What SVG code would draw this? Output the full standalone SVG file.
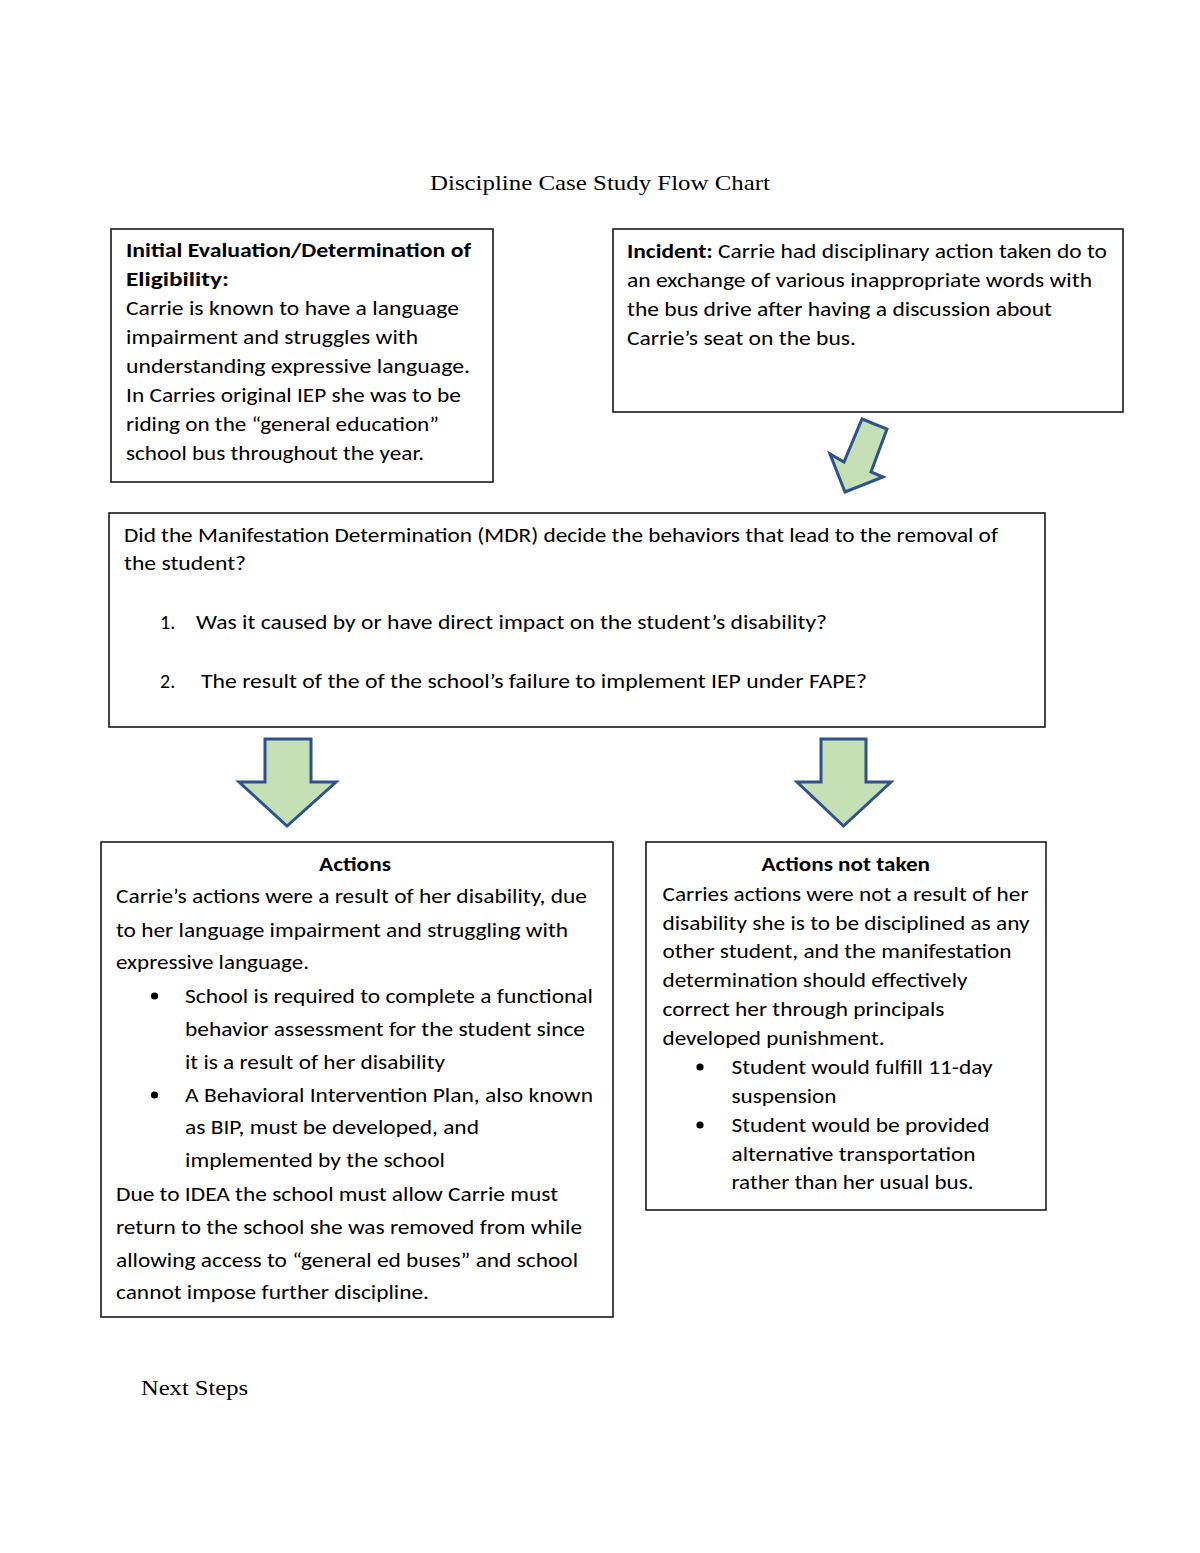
<svg xmlns="http://www.w3.org/2000/svg" width="1200" height="1553" viewBox="0 0 1200 1553">
<style>
.box{fill:#fff;stroke:#1a1a1a;stroke-width:1.6}
.t{font-family:Carlito,"Liberation Sans",Arial,sans-serif;font-size:20px;fill:#000}
.b{font-weight:bold}
.serif{font-family:"Liberation Serif","Times New Roman",serif;font-size:21px;fill:#000}
.arrow{fill:#c5e0b4;stroke:#2f528f;stroke-width:3;stroke-linejoin:miter}
.dot{fill:#000}
</style>
<rect width="1200" height="1553" fill="#fff"/>
<text class="serif" x="430" y="190" textLength="340" lengthAdjust="spacingAndGlyphs">Discipline Case Study Flow Chart</text>

<g id="initial-evaluation">
<rect class="box" x="111" y="229" width="382" height="253"/>
<text class="t b" x="126" y="257" textLength="345" lengthAdjust="spacingAndGlyphs">Initial Evaluation/Determination of</text>
<text class="t b" x="126" y="286" textLength="103" lengthAdjust="spacingAndGlyphs">Eligibility:</text>
<text class="t" x="126" y="315" textLength="333" lengthAdjust="spacingAndGlyphs">Carrie is known to have a language</text>
<text class="t" x="126" y="344" textLength="292" lengthAdjust="spacingAndGlyphs">impairment and struggles with</text>
<text class="t" x="126" y="373" textLength="344" lengthAdjust="spacingAndGlyphs">understanding expressive language.</text>
<text class="t" x="126" y="402" textLength="335" lengthAdjust="spacingAndGlyphs">In Carries original IEP she was to be</text>
<text class="t" x="126" y="431" textLength="313" lengthAdjust="spacingAndGlyphs">riding on the “general education”</text>
<text class="t" x="126" y="460" textLength="298" lengthAdjust="spacingAndGlyphs">school bus throughout the year.</text>
</g>

<g id="incident">
<rect class="box" x="613" y="229" width="510" height="183"/>
<text class="t" x="627" y="258" textLength="480" lengthAdjust="spacingAndGlyphs"><tspan class="b">Incident:</tspan> Carrie had disciplinary action taken do to</text>
<text class="t" x="627" y="287" textLength="465" lengthAdjust="spacingAndGlyphs">an exchange of various inappropriate words with</text>
<text class="t" x="627" y="316" textLength="425" lengthAdjust="spacingAndGlyphs">the bus drive after having a discussion about</text>
<text class="t" x="627" y="345" textLength="229" lengthAdjust="spacingAndGlyphs">Carrie’s seat on the bus.</text>
</g>

<g id="mdr">
<rect class="box" x="109" y="513" width="936" height="214"/>
<text class="t" x="124" y="542" textLength="874" lengthAdjust="spacingAndGlyphs">Did the Manifestation Determination (MDR) decide the behaviors that lead to the removal of</text>
<text class="t" x="124" y="570" textLength="122" lengthAdjust="spacingAndGlyphs">the student?</text>
<text class="t" x="160" y="629">1.</text>
<text class="t" x="196" y="629" textLength="631" lengthAdjust="spacingAndGlyphs">Was it caused by or have direct impact on the student’s disability?</text>
<text class="t" x="160" y="688">2.</text>
<text class="t" x="201" y="688" textLength="666" lengthAdjust="spacingAndGlyphs">The result of the of the school’s failure to implement IEP under FAPE?</text>
</g>

<g id="actions">
<rect class="box" x="101" y="842" width="512" height="475"/>
<text class="t b" x="319" y="871" textLength="72" lengthAdjust="spacingAndGlyphs">Actions</text>
<text class="t" x="116" y="903" textLength="471" lengthAdjust="spacingAndGlyphs">Carrie’s actions were a result of her disability, due</text>
<text class="t" x="116" y="937" textLength="452" lengthAdjust="spacingAndGlyphs">to her language impairment and struggling with</text>
<text class="t" x="116" y="969" textLength="193" lengthAdjust="spacingAndGlyphs">expressive language.</text>
<circle class="dot" cx="154.5" cy="996" r="3.6"/>
<text class="t" x="185" y="1003" textLength="408" lengthAdjust="spacingAndGlyphs">School is required to complete a functional</text>
<text class="t" x="185" y="1036" textLength="400" lengthAdjust="spacingAndGlyphs">behavior assessment for the student since</text>
<text class="t" x="185" y="1069" textLength="260" lengthAdjust="spacingAndGlyphs">it is a result of her disability</text>
<circle class="dot" cx="154.5" cy="1095" r="3.6"/>
<text class="t" x="185" y="1102" textLength="408" lengthAdjust="spacingAndGlyphs">A Behavioral Intervention Plan, also known</text>
<text class="t" x="185" y="1134" textLength="294" lengthAdjust="spacingAndGlyphs">as BIP, must be developed, and</text>
<text class="t" x="185" y="1167" textLength="260" lengthAdjust="spacingAndGlyphs">implemented by the school</text>
<text class="t" x="116" y="1201" textLength="442" lengthAdjust="spacingAndGlyphs">Due to IDEA the school must allow Carrie must</text>
<text class="t" x="116" y="1234" textLength="466" lengthAdjust="spacingAndGlyphs">return to the school she was removed from while</text>
<text class="t" x="116" y="1267" textLength="462" lengthAdjust="spacingAndGlyphs">allowing access to “general ed buses” and school</text>
<text class="t" x="116" y="1299" textLength="313" lengthAdjust="spacingAndGlyphs">cannot impose further discipline.</text>
</g>

<g id="actions-not-taken">
<rect class="box" x="646" y="842" width="400" height="368"/>
<text class="t b" x="761.5" y="871" textLength="168.5" lengthAdjust="spacingAndGlyphs">Actions not taken</text>
<text class="t" x="662.5" y="901" textLength="366" lengthAdjust="spacingAndGlyphs">Carries actions were not a result of her</text>
<text class="t" x="662.5" y="930" textLength="367" lengthAdjust="spacingAndGlyphs">disability she is to be disciplined as any</text>
<text class="t" x="662.5" y="958" textLength="349" lengthAdjust="spacingAndGlyphs">other student, and the manifestation</text>
<text class="t" x="662.5" y="987" textLength="305" lengthAdjust="spacingAndGlyphs">determination should effectively</text>
<text class="t" x="662.5" y="1016" textLength="282" lengthAdjust="spacingAndGlyphs">correct her through principals</text>
<text class="t" x="662.5" y="1045" textLength="222" lengthAdjust="spacingAndGlyphs">developed punishment.</text>
<circle class="dot" cx="700" cy="1067" r="3.6"/>
<text class="t" x="731.5" y="1074" textLength="261" lengthAdjust="spacingAndGlyphs">Student would fulfill 11-day</text>
<text class="t" x="731.5" y="1103" textLength="105" lengthAdjust="spacingAndGlyphs">suspension</text>
<circle class="dot" cx="700" cy="1125" r="3.6"/>
<text class="t" x="731.5" y="1132" textLength="258" lengthAdjust="spacingAndGlyphs">Student would be provided</text>
<text class="t" x="731.5" y="1161" textLength="244" lengthAdjust="spacingAndGlyphs">alternative transportation</text>
<text class="t" x="731.5" y="1189" textLength="242" lengthAdjust="spacingAndGlyphs">rather than her usual bus.</text>
</g>

<g id="connectors">
<polygon class="arrow" points="862,419 887,429 871,472 883,477 845,492 830,454 844,462"/>
<polygon class="arrow" points="265,739 311,739 311,782 336,782 287,826 239,782 265,782"/>
<polygon class="arrow" points="821,739 866,739 866,782 891,782 843.5,826 797,782 821,782"/>
</g>

<text class="serif" x="141" y="1395" textLength="107" lengthAdjust="spacingAndGlyphs">Next Steps</text>
</svg>
